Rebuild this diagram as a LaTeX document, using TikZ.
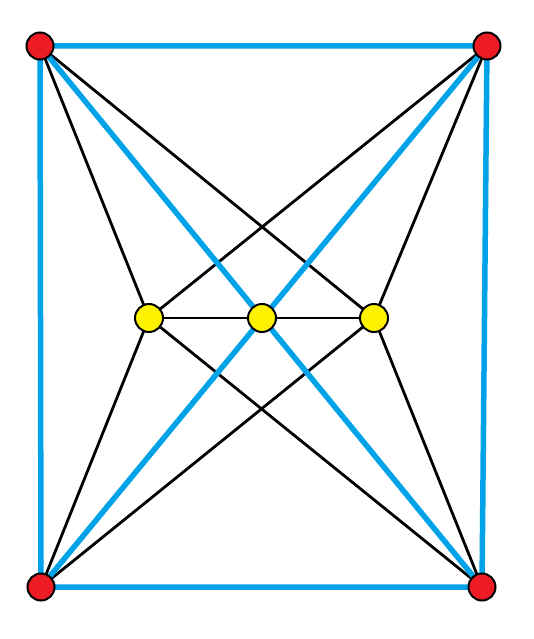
\documentclass[tikz,border=0pt]{standalone}
\definecolor{edgeblue}{RGB}{0,162,232}
\definecolor{nodered}{RGB}{237,28,36}
\definecolor{nodeyellow}{RGB}{255,242,0}
\begin{document}
\begin{tikzpicture}[x=1pt,y=-1pt,
  bluee/.style={draw=edgeblue,line width=5.5pt},
  blacke/.style={draw=black,line width=2.8pt},
  rednode/.style={circle,draw=black,line width=2pt,fill=nodered,minimum size=27pt,inner sep=0pt},
  yelnode/.style={circle,draw=black,line width=2pt,fill=nodeyellow,minimum size=28pt,inner sep=0pt}]
\useasboundingbox (0,0) rectangle (533,639);
\coordinate (tl) at (40,46);
\coordinate (tr) at (487,46);
\coordinate (bl) at (41,587);
\coordinate (br) at (482,587);
\coordinate (yl) at (149,318);
\coordinate (ym) at (262,318);
\coordinate (yr) at (374,318);
% black edges
\foreach \a in {tl,tr,bl,br}{
  \draw[blacke] (\a) -- (yl);
  \draw[blacke] (\a) -- (yr);
}
\draw[blacke] (yl) -- (ym) -- (yr);
% blue edges
\draw[bluee] (tl) -- (tr) -- (br) -- (bl) -- cycle;
\draw[bluee] (tl) -- (br);
\draw[bluee] (tr) -- (bl);
% nodes
\node[rednode] (ntl) at (tl) {};
\node[rednode] (ntr) at (tr) {};
\node[rednode] (nbl) at (bl) {};
\node[rednode] (nbr) at (br) {};
\node[yelnode] (nyl) at (yl) {};
\node[yelnode] (nym) at (ym) {};
\node[yelnode] (nyr) at (yr) {};
\end{tikzpicture}
\end{document}
